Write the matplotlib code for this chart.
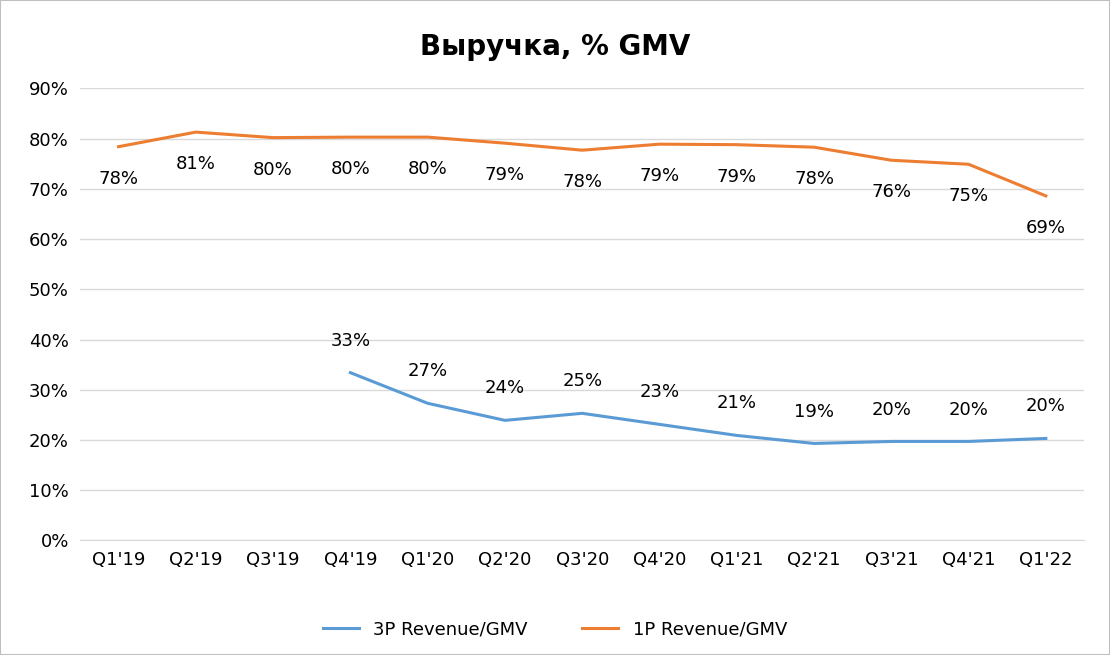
import matplotlib
matplotlib.use("Agg")
import matplotlib.pyplot as plt
import numpy as np

categories = ["Q1'19","Q2'19","Q3'19","Q4'19","Q1'20","Q2'20","Q3'20","Q4'20","Q1'21","Q2'21","Q3'21","Q4'21","Q1'22"]
rev_1p = [78.4, 81.3, 80.2, 80.3, 80.3, 79.1, 77.7, 78.9, 78.8, 78.3, 75.7, 74.9, 68.6]
rev_3p = [None, None, None, 33.4, 27.3, 23.9, 25.3, 23.1, 20.9, 19.3, 19.7, 19.7, 20.3]

fig = plt.figure(figsize=(11.1, 6.55), dpi=100)
ax = fig.add_axes([0.072, 0.175, 0.905, 0.69])
x = np.arange(len(categories))
c3 = "#5B9BD5"; c1 = "#ED7D31"
x3 = [i for i, v in enumerate(rev_3p) if v is not None]
y3 = [v for v in rev_3p if v is not None]
ax.plot(x3, y3, color=c3, lw=2.2, label="3P Revenue/GMV")
ax.plot(x, rev_1p, color=c1, lw=2.2, label="1P Revenue/GMV")
for i, v in enumerate(rev_1p):
    ax.annotate(f"{v:.0f}%", (i, v), xytext=(0, -23), textcoords="offset points", ha="center", va="center", fontsize=13)
for i, v in zip(x3, y3):
    ax.annotate(f"{v:.0f}%", (i, v), xytext=(0, 23), textcoords="offset points", ha="center", va="center", fontsize=13)
ax.set_ylim(0, 90)
ax.set_xlim(-0.5, len(categories) - 0.5)
ax.set_yticks(range(0, 91, 10))
ax.set_yticklabels([f"{t}%" for t in range(0, 91, 10)], fontsize=13)
ax.set_xticks(x)
ax.set_xticklabels(categories, fontsize=13)
ax.grid(axis="y", color="#D9D9D9", lw=1)
ax.set_axisbelow(True)
for s in ["top", "right", "left"]:
    ax.spines[s].set_visible(False)
ax.spines["bottom"].set_color("#D9D9D9")
ax.tick_params(length=0, pad=8)
fig.suptitle("Выручка, % GMV", fontsize=20, fontweight="bold", y=0.95)
fig.legend(loc="lower center", ncol=2, frameon=False, fontsize=13, bbox_to_anchor=(0.5, 0.0), columnspacing=3)
fig.patches.append(plt.Rectangle((0, 0), 1, 1, transform=fig.transFigure, fill=False, edgecolor="#BFBFBF", lw=1.5))
fig.savefig("out.png", dpi=100)
